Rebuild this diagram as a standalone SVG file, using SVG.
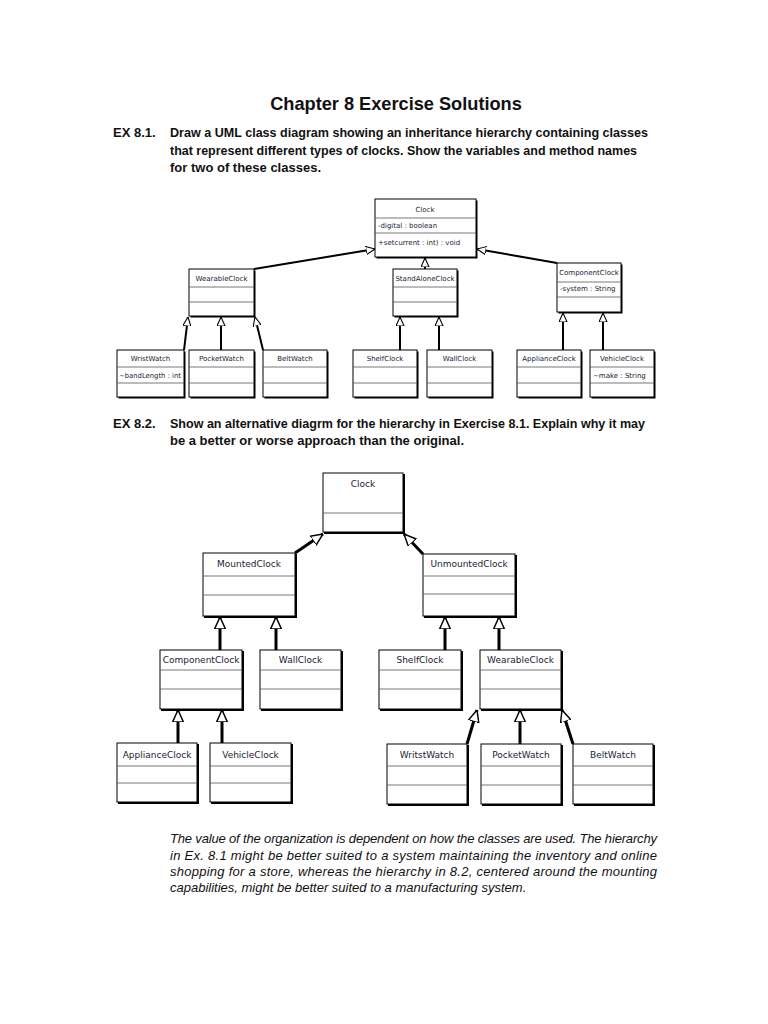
<svg xmlns="http://www.w3.org/2000/svg" width="768" height="1024" viewBox="0 0 768 1024">
<defs>
<marker id="tri" viewBox="0 0 10 10" refX="10" refY="5" markerWidth="9" markerHeight="9" markerUnits="userSpaceOnUse" orient="auto">
<path d="M0,0.5 L10,5 L0,9.5 z" fill="#fff" stroke="#000" stroke-width="1.2"/>
</marker>
<marker id="tri2" viewBox="0 0 10 10" refX="10" refY="5" markerWidth="12" markerHeight="12" markerUnits="userSpaceOnUse" orient="auto">
<path d="M0,0.5 L10,5 L0,9.5 z" fill="#fff" stroke="#000" stroke-width="1.2"/>
</marker>
</defs>
<style>
.hd{font-family:"Liberation Sans",Arial,sans-serif;font-weight:bold;fill:#111}
.body{font-family:"Liberation Sans",Arial,sans-serif;font-size:13px;font-weight:bold;fill:#111}
.para{font-family:"Liberation Sans",Arial,sans-serif;font-size:13px;font-style:italic;fill:#111}
.box{fill:#fff;stroke:#000;stroke-width:1}
.sh{fill:#000}
.dv{stroke:#555;stroke-width:0.8}
.t1{font-family:"DejaVu Sans","Liberation Sans",sans-serif;font-size:7px;fill:#223;text-anchor:middle}
.a1{font-family:"DejaVu Sans","Liberation Sans",sans-serif;font-size:7px;fill:#223}
.t2{font-family:"DejaVu Sans","Liberation Sans",sans-serif;font-size:9px;fill:#223;text-anchor:middle}
.c1{fill:none;stroke:#000;stroke-width:2;marker-end:url(#tri)}
.c2{fill:none;stroke:#000;stroke-width:3;marker-end:url(#tri2)}
</style>
<rect width="768" height="1024" fill="#fff"/>

<text class="hd" x="396" y="110" font-size="18.2" text-anchor="middle">Chapter 8 Exercise Solutions</text>
<text class="body" x="113" y="137">EX 8.1.</text>
<text class="body" x="170" y="137" textLength="478" lengthAdjust="spacingAndGlyphs">Draw a UML class diagram showing an inheritance hierarchy containing classes</text>
<text class="body" x="170" y="155" textLength="467" lengthAdjust="spacingAndGlyphs">that represent different types of clocks. Show the variables and method names</text>
<text class="body" x="170" y="172">for two of these classes.</text>
<text class="body" x="113" y="428">EX 8.2.</text>
<text class="body" x="170" y="428" textLength="475" lengthAdjust="spacingAndGlyphs">Show an alternative diagrm for the hierarchy in Exercise 8.1. Explain why it may</text>
<text class="body" x="170" y="445">be a better or worse approach than the original.</text>

<!-- Diagram 1 nodes -->
<g id="d1-clock"><rect class="sh" x="376.5" y="200.5" width="101" height="58"/><rect class="box" x="375" y="199" width="101" height="58"/><line class="dv" x1="375" y1="218" x2="476" y2="218"/><line class="dv" x1="375" y1="233" x2="476" y2="233"/><text class="t1" x="425" y="212">Clock</text><text class="a1" x="378" y="228">-digital : boolean</text><text class="a1" x="378" y="245">+setcurrent : int) : void</text></g>
<g id="d1-wearable"><rect class="sh" x="190.5" y="270.5" width="65" height="47"/><rect class="box" x="189" y="269" width="65" height="47"/><line class="dv" x1="189" y1="287" x2="254" y2="287"/><line class="dv" x1="189" y1="302" x2="254" y2="302"/><text class="t1" x="221.5" y="281">WearableClock</text></g>
<g id="d1-standalone"><rect class="sh" x="394.5" y="270.5" width="64" height="47"/><rect class="box" x="393" y="269" width="64" height="47"/><line class="dv" x1="393" y1="287" x2="457" y2="287"/><line class="dv" x1="393" y1="302" x2="457" y2="302"/><text class="t1" x="425" y="281">StandAloneClock</text></g>
<g id="d1-component"><rect class="sh" x="558.5" y="264.5" width="64" height="49"/><rect class="box" x="557" y="263" width="64" height="49"/><line class="dv" x1="557" y1="282" x2="621" y2="282"/><line class="dv" x1="557" y1="297" x2="621" y2="297"/><text class="t1" x="589" y="275">ComponentClock</text><text class="a1" x="560" y="291">-system : String</text></g>
<g id="d1-wrist"><rect class="sh" x="118.5" y="351.5" width="67" height="47"/><rect class="box" x="117" y="350" width="67" height="47"/><line class="dv" x1="117" y1="367" x2="184" y2="367"/><line class="dv" x1="117" y1="383" x2="184" y2="383"/><text class="t1" x="150.5" y="361">WristWatch</text><text class="a1" x="119" y="378" textLength="62" lengthAdjust="spacingAndGlyphs">~bandLength : int</text></g>
<g id="d1-pocket"><rect class="sh" x="190.5" y="351.5" width="65" height="47"/><rect class="box" x="189" y="350" width="65" height="47"/><line class="dv" x1="189" y1="367" x2="254" y2="367"/><line class="dv" x1="189" y1="383" x2="254" y2="383"/><text class="t1" x="221.5" y="361">PocketWatch</text></g>
<g id="d1-belt"><rect class="sh" x="264.5" y="351.5" width="64" height="47"/><rect class="box" x="263" y="350" width="64" height="47"/><line class="dv" x1="263" y1="367" x2="327" y2="367"/><line class="dv" x1="263" y1="383" x2="327" y2="383"/><text class="t1" x="295" y="361">BeltWatch</text></g>
<g id="d1-shelf"><rect class="sh" x="354.5" y="351.5" width="64" height="47"/><rect class="box" x="353" y="350" width="64" height="47"/><line class="dv" x1="353" y1="367" x2="417" y2="367"/><line class="dv" x1="353" y1="383" x2="417" y2="383"/><text class="t1" x="385" y="361">ShelfClock</text></g>
<g id="d1-wall"><rect class="sh" x="428.5" y="351.5" width="65" height="47"/><rect class="box" x="427" y="350" width="65" height="47"/><line class="dv" x1="427" y1="367" x2="492" y2="367"/><line class="dv" x1="427" y1="383" x2="492" y2="383"/><text class="t1" x="459.5" y="361">WallClock</text></g>
<g id="d1-appliance"><rect class="sh" x="518.5" y="351.5" width="64" height="47"/><rect class="box" x="517" y="350" width="64" height="47"/><line class="dv" x1="517" y1="367" x2="581" y2="367"/><line class="dv" x1="517" y1="383" x2="581" y2="383"/><text class="t1" x="549" y="361">ApplianceClock</text></g>
<g id="d1-vehicle"><rect class="sh" x="591.5" y="351.5" width="64" height="47"/><rect class="box" x="590" y="350" width="64" height="47"/><line class="dv" x1="590" y1="367" x2="654" y2="367"/><line class="dv" x1="590" y1="383" x2="654" y2="383"/><text class="t1" x="622" y="361">VehicleClock</text><text class="a1" x="593" y="378">~make : String</text></g>

<!-- Diagram 1 connectors -->
<g id="d1-connectors">
<path class="c1" d="M254,269 L375,249"/>
<path class="c1" d="M425,269 L425,258"/>
<path class="c1" d="M557,263 L477,249"/>
<path class="c1" d="M184,350 L188,317"/>
<path class="c1" d="M221,350 L221,317"/>
<path class="c1" d="M263,350 L255,317"/>
<path class="c1" d="M400,350 L400,317"/>
<path class="c1" d="M439,350 L439,317"/>
<path class="c1" d="M563,350 L563,313"/>
<path class="c1" d="M603,350 L603,313"/>
</g>

<!-- Diagram 2 nodes -->
<g id="d2-clock"><rect class="sh" x="324" y="474" width="81" height="60"/><rect class="box" x="323" y="473" width="80" height="59"/><line class="dv" x1="323" y1="513" x2="403" y2="513"/><text class="t2" x="363" y="487">Clock</text></g>
<g id="d2-mounted"><rect class="sh" x="204" y="554" width="93" height="64"/><rect class="box" x="203" y="553" width="92" height="63"/><line class="dv" x1="203" y1="576" x2="295" y2="576"/><line class="dv" x1="203" y1="595" x2="295" y2="595"/><text class="t2" x="249" y="567">MountedClock</text></g>
<g id="d2-unmounted"><rect class="sh" x="424" y="555" width="93" height="63"/><rect class="box" x="423" y="554" width="92" height="62"/><line class="dv" x1="423" y1="576" x2="515" y2="576"/><line class="dv" x1="423" y1="594" x2="515" y2="594"/><text class="t2" x="469" y="567">UnmountedClock</text></g>
<g id="d2-component"><rect class="sh" x="161" y="651" width="83" height="60"/><rect class="box" x="160" y="650" width="82" height="59"/><line class="dv" x1="160" y1="670" x2="242" y2="670"/><line class="dv" x1="160" y1="689" x2="242" y2="689"/><text class="t2" x="201" y="663">ComponentClock</text></g>
<g id="d2-wall"><rect class="sh" x="261" y="651" width="82" height="60"/><rect class="box" x="260" y="650" width="81" height="59"/><line class="dv" x1="260" y1="670" x2="341" y2="670"/><line class="dv" x1="260" y1="689" x2="341" y2="689"/><text class="t2" x="300.5" y="663">WallClock</text></g>
<g id="d2-shelf"><rect class="sh" x="380" y="651" width="83" height="60"/><rect class="box" x="379" y="650" width="82" height="59"/><line class="dv" x1="379" y1="670" x2="461" y2="670"/><line class="dv" x1="379" y1="689" x2="461" y2="689"/><text class="t2" x="420" y="663">ShelfClock</text></g>
<g id="d2-wearable"><rect class="sh" x="481" y="651" width="82" height="60"/><rect class="box" x="480" y="650" width="81" height="59"/><line class="dv" x1="480" y1="670" x2="561" y2="670"/><line class="dv" x1="480" y1="689" x2="561" y2="689"/><text class="t2" x="520.5" y="663">WearableClock</text></g>
<g id="d2-appliance"><rect class="sh" x="118" y="744" width="81" height="60"/><rect class="box" x="117" y="743" width="80" height="59"/><line class="dv" x1="117" y1="766" x2="197" y2="766"/><line class="dv" x1="117" y1="783" x2="197" y2="783"/><text class="t2" x="157" y="758">ApplianceClock</text></g>
<g id="d2-vehicle"><rect class="sh" x="211" y="744" width="82" height="60"/><rect class="box" x="210" y="743" width="81" height="59"/><line class="dv" x1="210" y1="766" x2="291" y2="766"/><line class="dv" x1="210" y1="783" x2="291" y2="783"/><text class="t2" x="250.5" y="758">VehicleClock</text></g>
<g id="d2-writst"><rect class="sh" x="388" y="745" width="81" height="61"/><rect class="box" x="387" y="744" width="80" height="60"/><line class="dv" x1="387" y1="766" x2="467" y2="766"/><line class="dv" x1="387" y1="785" x2="467" y2="785"/><text class="t2" x="427" y="758">WritstWatch</text></g>
<g id="d2-pocket"><rect class="sh" x="482" y="745" width="81" height="61"/><rect class="box" x="481" y="744" width="80" height="60"/><line class="dv" x1="481" y1="766" x2="561" y2="766"/><line class="dv" x1="481" y1="785" x2="561" y2="785"/><text class="t2" x="521" y="758">PocketWatch</text></g>
<g id="d2-belt"><rect class="sh" x="574" y="745" width="81" height="61"/><rect class="box" x="573" y="744" width="80" height="60"/><line class="dv" x1="573" y1="766" x2="653" y2="766"/><line class="dv" x1="573" y1="785" x2="653" y2="785"/><text class="t2" x="613" y="758">BeltWatch</text></g>

<!-- Diagram 2 connectors -->
<g id="d2-connectors">
<path class="c2" d="M295,553 L323,534"/>
<path class="c2" d="M423,554 L404,534"/>
<path class="c2" d="M220,650 L220,617"/>
<path class="c2" d="M276,650 L276,617"/>
<path class="c2" d="M445,650 L445,617"/>
<path class="c2" d="M499,650 L499,617"/>
<path class="c2" d="M178,743 L178,710"/>
<path class="c2" d="M222,743 L222,710"/>
<path class="c2" d="M467,744 L477,710"/>
<path class="c2" d="M520,744 L520,710"/>
<path class="c2" d="M573,744 L562,710"/>
</g>

<text class="para" x="170" y="843" textLength="487" lengthAdjust="spacing">The value of the organization is dependent on how the classes are used. The hierarchy</text>
<text class="para" x="170" y="860" textLength="487" lengthAdjust="spacing">in Ex. 8.1 might be better suited to a system maintaining the inventory and online</text>
<text class="para" x="170" y="876" textLength="487" lengthAdjust="spacing">shopping for a store, whereas the hierarchy in 8.2, centered around the mounting</text>
<text class="para" x="170" y="892">capabilities, might be better suited to a manufacturing system.</text>
</svg>
